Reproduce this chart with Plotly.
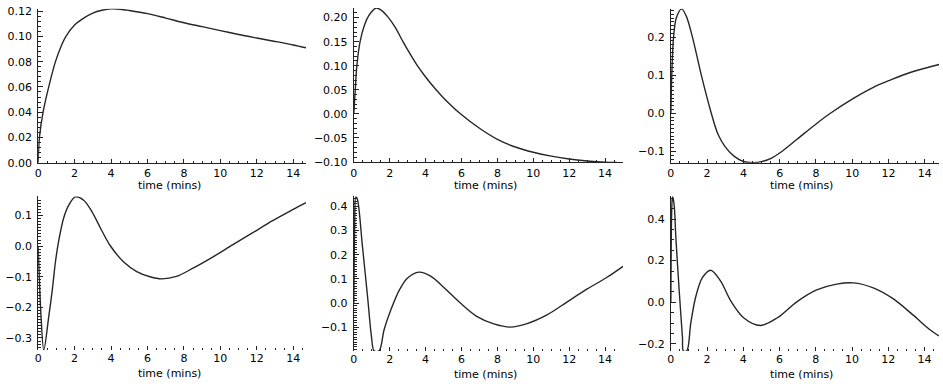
import plotly.graph_objects as go

W, H = 943, 388

# ---- data ----
t1 = [0, 0.07, 0.27, 0.58, 0.95, 1.3, 1.5, 2.0, 2.5, 3.0, 3.5, 4.0, 4.5, 5.0, 6.0, 7.0, 8.0, 9.0, 10.0, 11.0, 12.0, 13.0, 14.0, 14.7]
y1 = [0, 0.02, 0.04, 0.06, 0.08, 0.0935, 0.0995, 0.109, 0.1145, 0.1185, 0.1207, 0.1218, 0.1215, 0.1205, 0.118, 0.1145, 0.1108, 0.1077, 0.1046, 0.1015, 0.0987, 0.096, 0.0932, 0.091]

t2 = [0, 0.08, 0.17, 0.35, 0.6, 0.85, 1.22, 1.5, 1.93, 2.3, 2.74, 3.0, 3.54, 4.0, 4.56, 5.0, 5.94, 7.0, 8.0, 9.0, 10.0, 11.0, 12.0, 13.0, 14.0, 14.65]
y2 = [0, 0.05, 0.10, 0.15, 0.185, 0.205, 0.2195, 0.216, 0.200, 0.180, 0.150, 0.133, 0.100, 0.0765, 0.051, 0.033, 0.0, -0.030, -0.053, -0.069, -0.080, -0.088, -0.094, -0.098, -0.1005, -0.101]

t3 = [0, 0.05, 0.15, 0.3, 0.59, 0.85, 1.19, 1.68, 2.23, 2.6, 3.0, 3.5, 4.0, 4.5, 5.0, 5.5, 6.04, 6.96, 8.06, 8.8, 10.07, 11.17, 12.1, 13.2, 14.79]
y3 = [0, 0.10, 0.20, 0.25, 0.274, 0.255, 0.20, 0.10, 0.0, -0.055, -0.088, -0.113, -0.1265, -0.1296, -0.127, -0.119, -0.103, -0.068, -0.026, 0.0, 0.039, 0.068, 0.087, 0.107, 0.128]

t4 = [0, 0.15, 0.31, 0.58, 0.77, 0.95, 1.13, 1.4, 1.68, 2.04, 2.5, 2.95, 3.41, 3.95, 4.68, 5.41, 6.14, 6.77, 7.59, 8.5, 9.6, 10.69, 11.78, 12.87, 13.97, 14.7]
y4 = [0, -0.22, -0.34, -0.231, -0.146, -0.051, 0.018, 0.092, 0.134, 0.161, 0.150, 0.113, 0.060, 0.002, -0.051, -0.083, -0.100, -0.107, -0.099, -0.072, -0.035, 0.005, 0.044, 0.083, 0.119, 0.142]

t5 = [0, 0.05, 0.11, 0.21, 0.48, 0.76, 0.98, 1.13, 1.41, 1.69, 2.06, 2.52, 2.98, 3.63, 4.28, 5.02, 5.95, 6.87, 7.8, 8.72, 9.65, 10.76, 11.87, 12.98, 14.09, 15.0]
y5 = [0, 0.32, 0.44, 0.425, 0.235, 0.032, -0.135, -0.196, -0.196, -0.108, -0.028, 0.052, 0.103, 0.128, 0.112, 0.065, 0.0, -0.055, -0.085, -0.098, -0.084, -0.048, 0.005, 0.058, 0.106, 0.152]

t6 = [0, 0.05, 0.09, 0.18, 0.27, 0.46, 0.64, 0.69, 0.88, 1.1, 1.37, 1.74, 2.2, 2.74, 3.29, 4.03, 4.94, 5.86, 6.95, 8.05, 9.15, 10.07, 11.17, 12.26, 13.36, 14.28, 14.79]
y6 = [0, 0.45, 0.509, 0.47, 0.321, 0.056, -0.17, -0.234, -0.234, -0.10, 0.025, 0.118, 0.154, 0.103, 0.009, -0.076, -0.112, -0.076, 0.002, 0.059, 0.087, 0.093, 0.069, 0.017, -0.061, -0.131, -0.162]

x_tick_labels = ["0", "2", "4", "6", "8", "10", "12", "14"]
x_tick_vals = [0, 2, 4, 6, 8, 10, 12, 14]
x_title = "time (mins)"

panels = [
    # t, y, xr, yr, x px, y px, ydtick, yminor, yfmt, show bottom line
    (t1, y1, [0, 14.7], [0, 0.1218], (34.3, 303.3), (5, 163.3), 0.02, 0.004, ".2f", True),
    (t2, y2, [0, 15.0], [-0.101, 0.2202], (351.3, 621.7), (4, 163.0), 0.05, 0.01, ".2f", True),
    (t3, y3, [0, 14.79], [-0.1296, 0.274], (669.7, 939.0), (5, 163.3), 0.1, 0.01, ".1f", True),
    (t4, y4, [0, 14.7], [-0.34, 0.1625], (34.3, 303.3), (198, 356.3), 0.1, 0.01, ".1f", False),
    (t5, y5, [0, 15.0], [-0.196, 0.44], (351.3, 621.7), (198, 357.0), 0.1, 0.01, ".1f", False),
    (t6, y6, [0, 14.8], [-0.234, 0.509], (669.7, 939.0), (198, 357.0), 0.2, 0.05, ".1f", False),
]

fig = go.Figure()
font = dict(family="DejaVu Sans", size=11, color="#000")
tfont = dict(family="DejaVu Sans", size=11, color="#000")
annotations = []
for i, (t, y, xr, yr, xpx, ypx, ydt, ymin, yfmt, bline) in enumerate(panels):
    n = "" if i == 0 else str(i + 1)
    fig.add_trace(go.Scatter(x=t, y=y, mode="lines",
                             line=dict(color="#262626", width=1.4, shape="spline", smoothing=0.9),
                             xaxis="x" + n, yaxis="y" + n, showlegend=False, hoverinfo="skip"))
    xd = [xpx[0] / W, xpx[1] / W]
    yd = [1 - ypx[1] / H, 1 - ypx[0] / H]
    fig.layout["xaxis" + n] = dict(
        domain=xd, range=xr, anchor="y" + n, showgrid=False, zeroline=False,
        showline=bline, linecolor="#222", linewidth=1,
        tickmode="array", tickvals=x_tick_vals, ticktext=x_tick_labels,
        ticks="inside", ticklen=4, tickwidth=1, tickcolor="#222",
        minor=dict(dtick=0.5, tick0=0, ticks="inside", ticklen=2, tickwidth=1, tickcolor="#222", showgrid=False),
        tickfont=font, ticklabelstandoff=0,
    )
    fig.layout["yaxis" + n] = dict(
        domain=yd, range=yr, anchor="x" + n, showgrid=False, zeroline=False,
        showline=True, linecolor="#222", linewidth=1,
        tick0=0, dtick=ydt, tickformat=yfmt,
        ticks="inside", ticklen=5, tickwidth=1, tickcolor="#222",
        minor=dict(dtick=ymin, tick0=0, ticks="inside", ticklen=3, tickwidth=1, tickcolor="#222", showgrid=False),
        tickfont=font, ticklabelstandoff=3,
    )
    annotations.append(dict(text=x_title, xref="paper", yref="paper",
                            x=((xpx[0] + xpx[1]) / 2 - 3) / W,
                            y=1 - (ypx[1] + 24) / H,
                            showarrow=False, font=tfont, xanchor="center", yanchor="middle"))

fig.update_layout(width=W, height=H, margin=dict(l=0, r=0, t=0, b=0),
                  paper_bgcolor="white", plot_bgcolor="white",
                  annotations=annotations, font=font)
fig.write_html("out.html", config={"displayModeBar": False},
               post_script="document.body.style.margin='0px';")
